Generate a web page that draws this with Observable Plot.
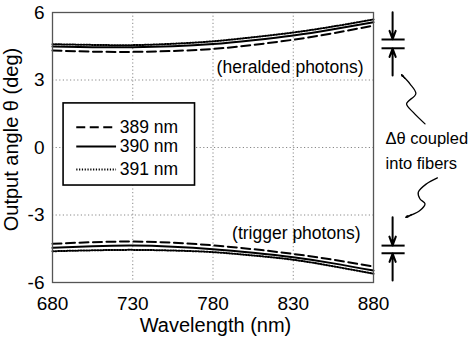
<!DOCTYPE html>
<html>
<head>
<meta charset="utf-8">
<script src="https://cdn.jsdelivr.net/npm/d3@7"></script>
<script src="https://cdn.jsdelivr.net/npm/@observablehq/plot@0.6"></script>
<style>
  html, body { margin: 0; padding: 0; background: #fff; }
  #chart svg { display: block; }
</style>
</head>
<body>
<div id="chart"></div>
<script>
// ---- Data ----
const wavelengths = [680, 705, 730, 755, 780, 805, 830, 855, 880];
const seriesNames = ["389 nm", "390 nm", "391 nm"];

// heralded photons (positive output angle)
const heralded389 = [4.31, 4.26, 4.25, 4.29, 4.38, 4.56, 4.79, 5.08, 5.42];
const heralded390 = [4.49, 4.46, 4.46, 4.50, 4.60, 4.77, 4.98, 5.26, 5.57];
const heralded391 = [4.59, 4.56, 4.55, 4.61, 4.72, 4.90, 5.11, 5.38, 5.69];

// trigger photons (negative output angle)
const trigger389 = [-4.28, -4.21, -4.18, -4.23, -4.35, -4.52, -4.73, -4.99, -5.29];
const trigger390 = [-4.46, -4.39, -4.36, -4.41, -4.52, -4.68, -4.88, -5.15, -5.47];
const trigger391 = [-4.61, -4.57, -4.55, -4.58, -4.65, -4.80, -4.99, -5.28, -5.61];

const xTicks = [680, 730, 780, 830, 880];
const yTicks = [-6, -3, 0, 3, 6];

// angular acceptance coupled into fibers (deg)
const coupledHeralded = [4.41, 4.80];
const coupledTrigger = [-4.70, -4.36];

const xLabel = "Wavelength (nm)";
const yLabel = "Output angle \u03B8 (deg)";
const noteHeralded = "(heralded photons)";
const noteTrigger = "(trigger photons)";
const noteCoupled = ["\u0394\u03B8 coupled", "into fibers"];

// ---- Build table ----
const valuesBy = {
  "389 nm": { heralded: heralded389, trigger: trigger389 },
  "390 nm": { heralded: heralded390, trigger: trigger390 },
  "391 nm": { heralded: heralded391, trigger: trigger391 }
};
const rows = [];
for (const s of seriesNames) {
  for (const branch of ["heralded", "trigger"]) {
    valuesBy[s][branch].forEach((v, i) => rows.push({ series: s, branch, wavelength: wavelengths[i], angle: v }));
  }
}

const dashes = { "389 nm": "9,4.5", "390 nm": null, "391 nm": "1.2,1.6" };
const widths = { "389 nm": 2, "390 nm": 2, "391 nm": 2 };
const font = "'Liberation Sans', Arial, Helvetica, sans-serif";

const curveMarks = seriesNames.map(s => Plot.line(rows.filter(d => d.series === s), {
  x: "wavelength", y: "angle", z: "branch",
  stroke: "black", strokeWidth: widths[s], curve: "natural",
  strokeDasharray: dashes[s]
}));

// legend (placed in data units inside the frame)
const legX1 = 686.9, legX2 = 768.8, legY1 = 1.96, legY2 = -1.69;
const legRows = [0.9, 0.05, -0.98];
const legLineX = [694.8, 719.6], legTextX = 721.9;
const legendMarks = [
  Plot.rect([0], { x1: legX1, x2: legX2, y1: legY1, y2: legY2, fill: "white", stroke: "black", strokeWidth: 1.6 }),
  ...seriesNames.map((s, i) => Plot.link([0], {
    x1: legLineX[0], x2: legLineX[1], y1: legRows[i], y2: legRows[i],
    stroke: "black", strokeWidth: widths[s], strokeDasharray: dashes[s]
  })),
  Plot.text(seriesNames, { x: legTextX, y: (d, i) => legRows[i], text: d => d, textAnchor: "start", lineAnchor: "middle", fontSize: 17.5, fill: "black" })
];

// bracket annotations (Δθ)
const bx = 891.9, bx1 = 885, bx2 = 899.4;
const bracketMarks = [];
for (const [lo, hi, topTail, botTail] of [
  [coupledHeralded[0], coupledHeralded[1], 6.01, 3.2],
  [coupledTrigger[0], coupledTrigger[1], -3.1, -5.91]
]) {
  bracketMarks.push(
    Plot.link([lo, hi], { x1: bx1, x2: bx2, y1: d => d, y2: d => d, stroke: "black", strokeWidth: 2 }),
    Plot.arrow([0], { x1: bx, x2: bx, y1: topTail, y2: hi + 0.01, stroke: "black", strokeWidth: 2, headLength: 9, headAngle: 40 }),
    Plot.arrow([0], { x1: bx, x2: bx, y1: botTail, y2: lo - 0.01, stroke: "black", strokeWidth: 2, headLength: 9, headAngle: 40 })
  );
}

// wavy pointer arrows
const wavyTop = [[912.1, 1.05], [904.8, 1.56], [900.6, 1.94], [906.4, 2.39], [902.7, 2.83], [897.5, 3.23]];
const wavyBottom = [[919.8, -1.35], [913.1, -1.61], [907.9, -1.99], [908.9, -2.28], [912.1, -2.50], [908.9, -2.80], [900.2, -3.10]];
const wavyMarks = [];
for (const w of [wavyTop, wavyBottom]) {
  const n = w.length;
  wavyMarks.push(
    Plot.line(w, { x: d => d[0], y: d => d[1], curve: "catmull-rom", stroke: "black", strokeWidth: 1.3 }),
    Plot.arrow([0], { x1: w[n - 2][0] * 0.4 + w[n - 1][0] * 0.6, y1: w[n - 2][1] * 0.4 + w[n - 1][1] * 0.6,
      x2: w[n - 1][0], y2: w[n - 1][1], stroke: "black", strokeWidth: 1.3, headLength: 8, headAngle: 45 })
  );
}

const chart = Plot.plot({
  width: 474,
  height: 338,
  marginLeft: 52,
  marginRight: 101,
  marginTop: 12,
  marginBottom: 56,
  style: { fontFamily: font, fontSize: "19px", background: "white", color: "black", overflow: "visible" },
  x: { domain: [680, 880], ticks: xTicks },
  y: { domain: [-6, 6], ticks: yTicks },
  marks: [
    Plot.gridX(xTicks.slice(1, -1), { stroke: "#888", strokeOpacity: 1, strokeWidth: 1, strokeDasharray: "1.2,2.4" }),
    Plot.gridY(yTicks.slice(1, -1), { stroke: "#888", strokeOpacity: 1, strokeWidth: 1, strokeDasharray: "1.2,2.4" }),
    Plot.axisX({ ticks: xTicks, tickSize: 0, tickPadding: 14, label: null, fontSize: 19, tickFormat: d => String(d) }),
    Plot.axisY({ ticks: yTicks, tickSize: 0, tickPadding: 8, label: null, fontSize: 19, tickFormat: d => String(d) }),
    ...curveMarks,
    ...legendMarks,
    Plot.frame({ stroke: "#555", strokeWidth: 1.3 }),
    Plot.text([noteHeralded], { frameAnchor: "top-right", dx: -10, dy: 55, textAnchor: "end", lineAnchor: "middle", fontSize: 17.5, text: d => d }),
    Plot.text([noteTrigger], { frameAnchor: "bottom-right", dx: -13, dy: -49, textAnchor: "end", lineAnchor: "middle", fontSize: 17.5, text: d => d }),
    ...bracketMarks,
    ...wavyMarks,
    Plot.text(noteCoupled, { x: 887.5, y: (d, i) => [0.4, -0.71][i], text: d => d, textAnchor: "start", lineAnchor: "middle", fontSize: 16.5 }),
    Plot.text([xLabel], { frameAnchor: "bottom", dx: 2.5, dy: 43, textAnchor: "middle", lineAnchor: "middle", fontSize: 20, text: d => d }),
    Plot.text([yLabel], { frameAnchor: "left", dx: -41, dy: -8, rotate: -90, textAnchor: "middle", lineAnchor: "middle", fontSize: 20, text: d => d })
  ]
});
document.getElementById("chart").appendChild(chart);
</script>
</body>
</html>
